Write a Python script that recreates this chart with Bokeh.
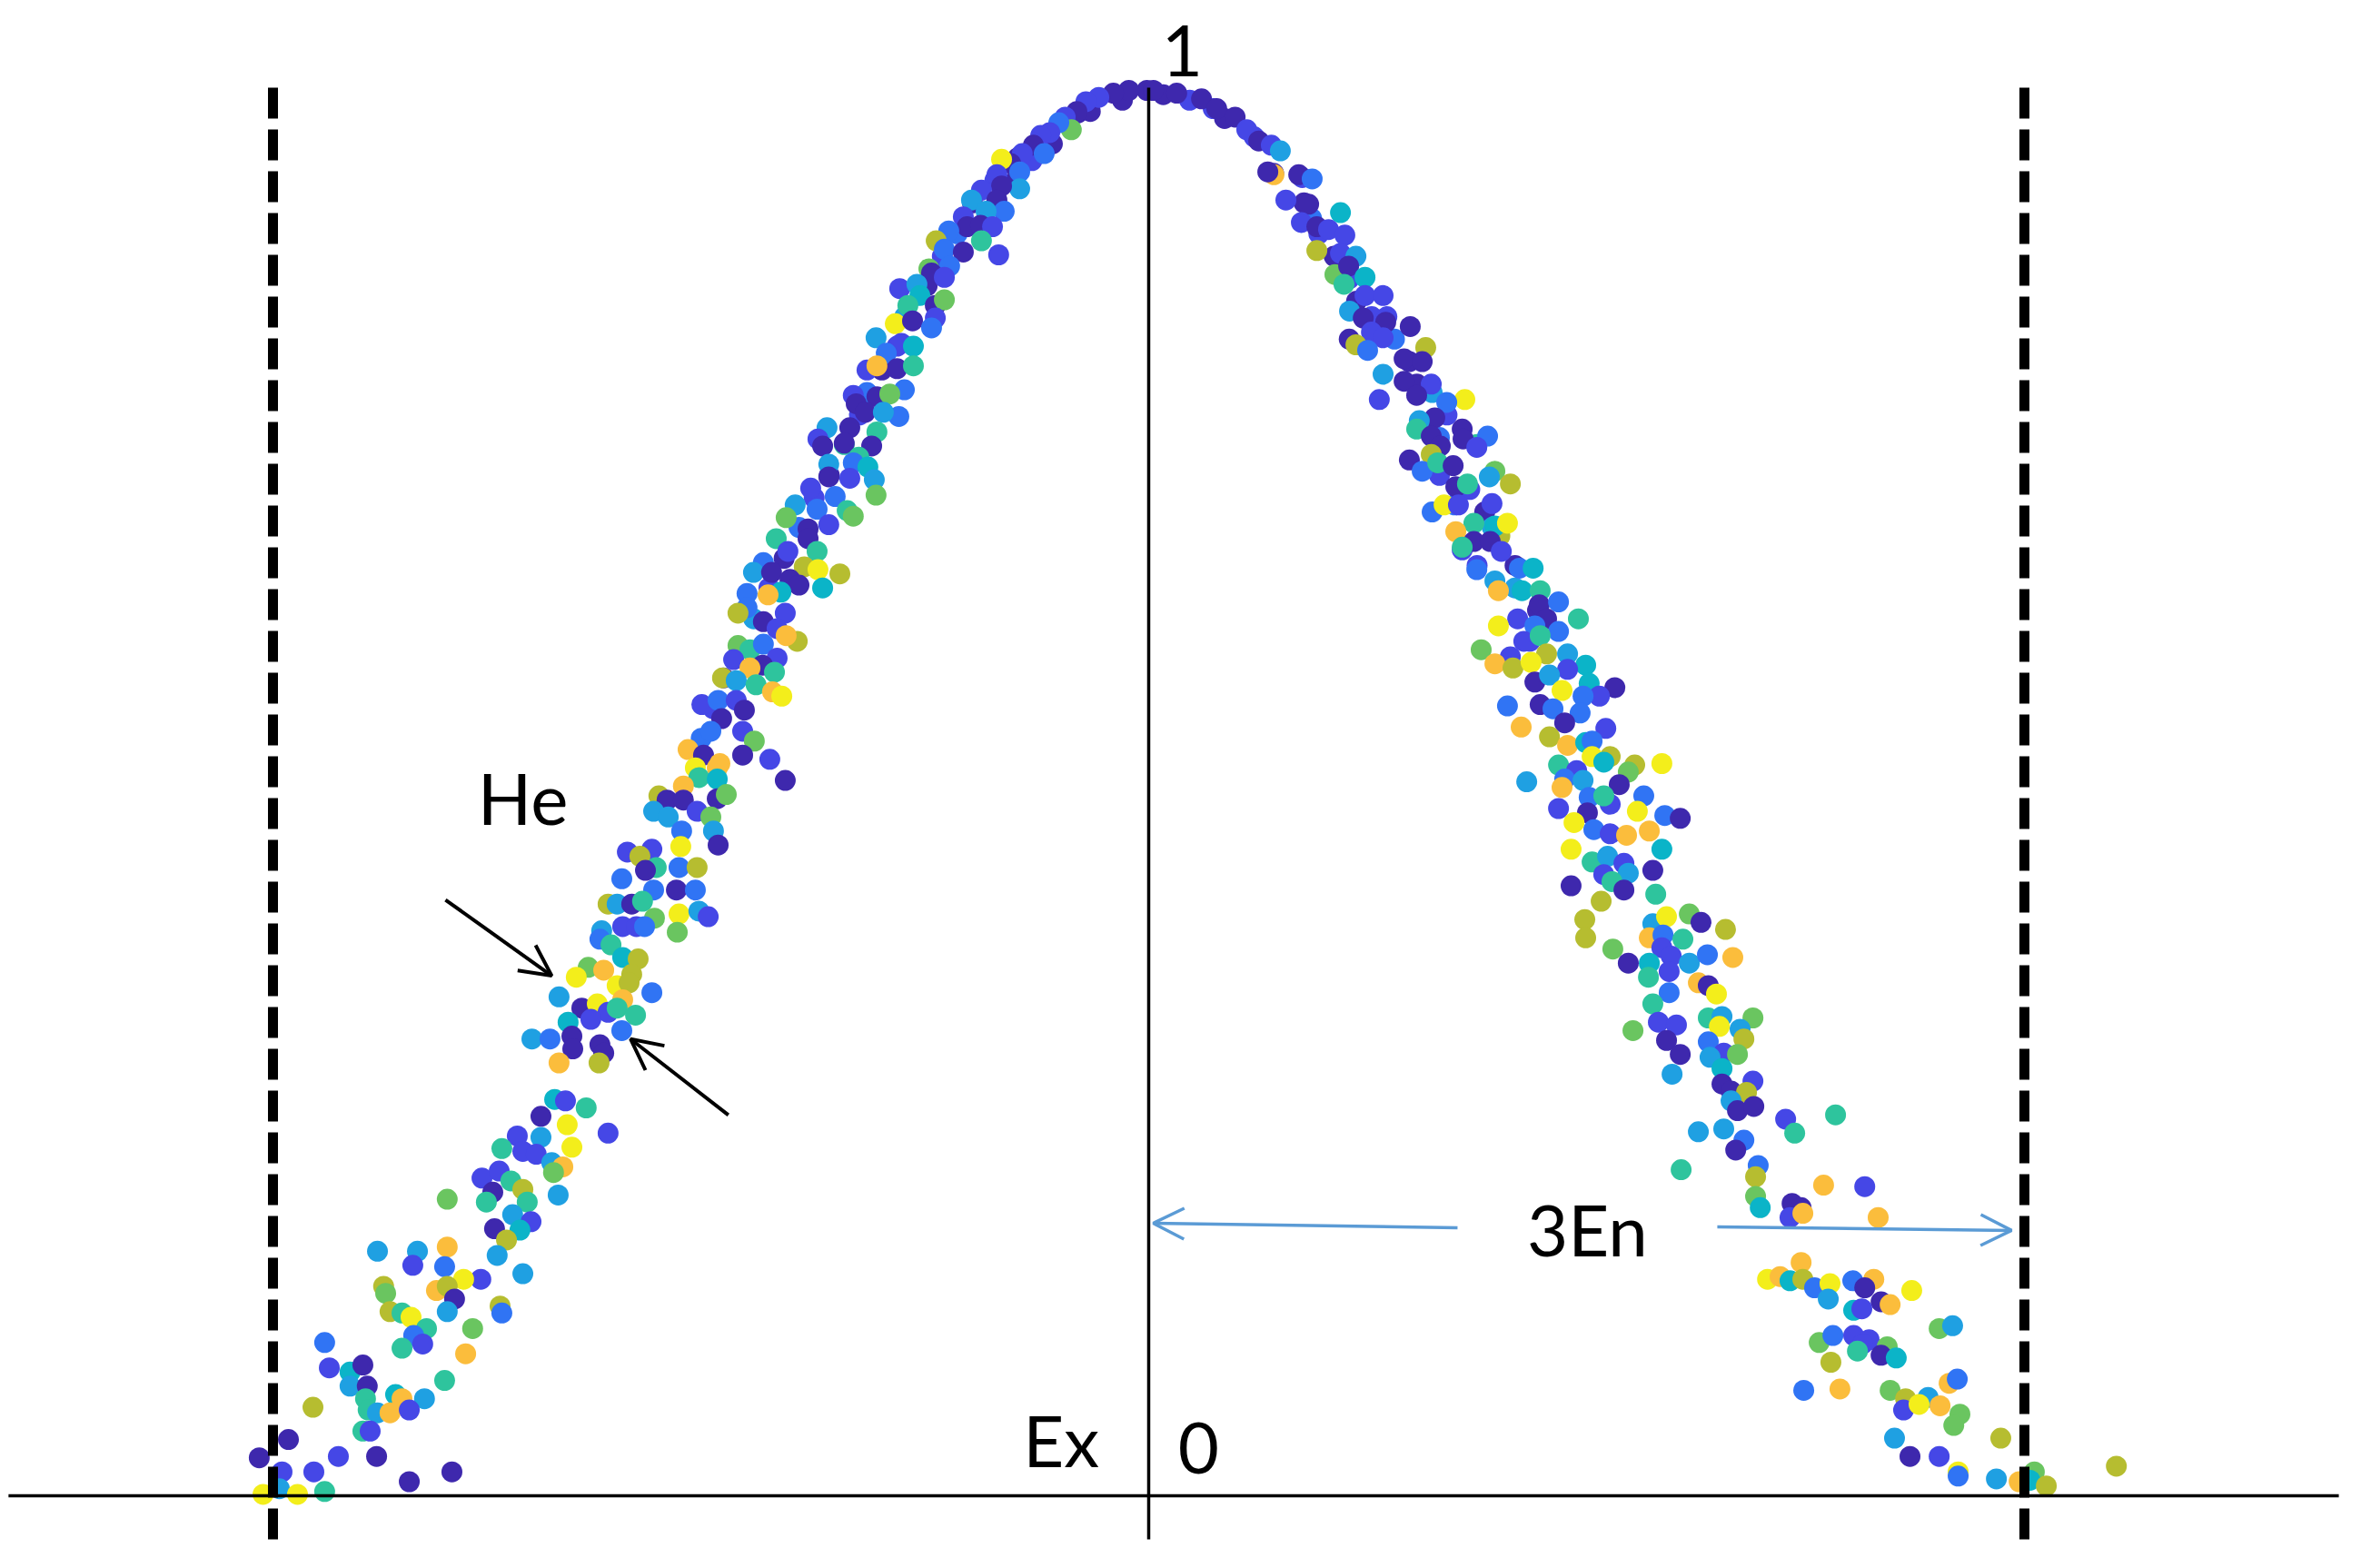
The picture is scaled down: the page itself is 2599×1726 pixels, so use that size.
from bokeh.plotting import figure
from bokeh.models import Range1d, Arrow, OpenHead, ColumnDataSource
from bokeh.core.properties import value
from bokeh.embed import file_html
from bokeh.resources import INLINE

# ---------------- cloud drops (x in En units around Ex, y = certainty degree) -------------
left_fill_x = [-0.243, -0.346, -0.449, -0.527, -0.604, -0.656, -0.707, -0.759, -0.836, -0.862,
               -0.914, -0.965, -0.991, -1.043, -1.094, -1.146, -1.198, -1.249, -1.301, -1.353,
               -1.404, -1.456, -1.492, -1.533]
left_fill_y = [0.984, 0.968, 0.952, 0.936, 0.920, 0.898, 0.882, 0.861, 0.839, 0.818,
               0.801, 0.785, 0.769, 0.748, 0.726, 0.710, 0.689, 0.667, 0.646, 0.624,
               0.603, 0.582, 0.560, 0.539]
left_fill_c = "DBDBDLBDSBDLBTDBLDBSGDBL"

right_fill_x = [0.712, 0.764, 0.842, 0.893, 0.971, 1.022, 1.074, 1.125, 0.996, 1.048,
                1.151, 1.203, 1.125, 1.255, 1.332, 1.306,
                0.428, 0.532, 0.583, 0.635, 0.687, 0.558,
                0.816, 0.919, 0.996, 1.100, 1.177, 1.255, 0.687, 0.790, 0.893, 0.971, 1.074]
right_fill_y = [0.850, 0.839, 0.823, 0.807, 0.785, 0.769, 0.759, 0.748, 0.726, 0.705,
                0.700, 0.683, 0.662, 0.646, 0.630, 0.608,
                0.941, 0.920, 0.898, 0.882, 0.866, 0.909,
                0.839, 0.791, 0.753, 0.716, 0.689, 0.662, 0.823, 0.780, 0.737, 0.700, 0.673]
right_fill_c = "DBLDSBDTBLDOBSDB" "DDBDBL" "BDLBSDDBDLB"

left_top_x = [-0.090, -0.200, -0.330, -0.400, -0.460,
              -0.006, -0.068, -0.121, -0.171, -0.215, -0.246, -0.286, -0.265, -0.308, -0.339,
              -0.370, -0.395, -0.358, -0.433, -0.473, -0.504, -0.442, -0.520, -0.442, -0.504,
              -0.573, -0.607, -0.520, -0.495, -0.557, -0.635, -0.622, -0.576, -0.535, -0.685,
              -0.573, -0.728, -0.700, -0.635, -0.514, -0.753, -0.682, -0.744, -0.700, -0.853,
              -0.794, -0.784, -0.731, -0.700, -0.825]
left_top_y = [0.993, 0.985, 0.962, 0.950, 0.935,
              1.000, 1.000, 0.998, 0.995, 0.992, 0.985, 0.981, 0.972, 0.977, 0.970,
              0.968, 0.961, 0.955, 0.955, 0.948, 0.951, 0.942, 0.940, 0.930, 0.932,
              0.929, 0.922, 0.922, 0.914, 0.914, 0.910, 0.903, 0.904, 0.903, 0.900,
              0.893, 0.893, 0.887, 0.885, 0.883, 0.873, 0.875, 0.870, 0.867, 0.859,
              0.862, 0.854, 0.847, 0.851, 0.847]
left_top_c = ("DDDBD"
              "DDDBBDBGLB" "BDLBDYLBSD" "BSDLSBDDBL" "TOLDBGLDBB" "SCDGT")

left_mid_x = [-0.868, -0.809, -0.731, -0.744, -0.934, -0.847, -0.806, -0.899, -0.862, -0.806,
              -0.965, -0.931, -0.837, -1.012, -0.931, -0.887, -1.002, -0.971, -0.856, -0.909,
              -1.102, -1.024, -0.931, -1.133, -1.117, -1.043, -0.949, -0.993, -1.096, -1.012,
              -0.962, -1.096, -1.024, -0.940, -1.158, -1.074, -0.934, -1.211, -1.136, -1.033,
              -1.242, -1.167, -1.096, -1.012, -1.276, -1.167, -1.136, -1.236, -1.320, -1.354,
              -1.292, -1.180, -1.133, -1.058, -1.229, -1.198, -1.260, -1.117, -1.304, -1.376,
              -1.376, -1.407, -1.245, -1.320, -1.273, -1.204, -1.242, -1.407, -1.366, -1.320,
              -1.422, -1.273, -1.323, -1.366, -1.282, -1.460, -1.413, -1.345, -1.289, -1.257,
              -1.531, -1.475, -1.413, -1.385, -1.463, -1.500, -1.391, -1.351, -1.578, -1.525,
              -1.469, -1.391, -1.298, -1.245]
left_mid_y = [0.834, 0.836, 0.838, 0.831, 0.824, 0.820, 0.818, 0.813, 0.802, 0.804,
              0.801, 0.804, 0.787, 0.783, 0.782, 0.784, 0.777, 0.771, 0.768, 0.771,
              0.760, 0.760, 0.757, 0.752, 0.747, 0.749, 0.747, 0.739, 0.734, 0.735,
              0.732, 0.725, 0.724, 0.723, 0.717, 0.711, 0.712, 0.705, 0.702, 0.701,
              0.696, 0.688, 0.691, 0.697, 0.681, 0.681, 0.672, 0.672, 0.664, 0.657,
              0.657, 0.661, 0.659, 0.656, 0.652, 0.648, 0.643, 0.646, 0.641, 0.642,
              0.632, 0.628, 0.628, 0.622, 0.617, 0.608, 0.612, 0.605, 0.602, 0.606,
              0.595, 0.596, 0.591, 0.589, 0.586, 0.582, 0.580, 0.577, 0.572, 0.569,
              0.563, 0.566, 0.566, 0.559, 0.553, 0.544, 0.544, 0.537, 0.531, 0.527,
              0.521, 0.527, 0.524, 0.509]
left_mid_c = ("YDBLSBCLDT" "BRLBDGDDLS" "SDTBDDDTSL" "CDBSBLGSLT" "GDBGTDTBLS"
              "DOYODDCCRL" "LOBDBORGTL" "BBDRTOSTRY" "BLBDDLBGRD" "RDBD")

left_low_x = [-1.553, -1.478, -1.541, -1.478, -1.594, -1.678, -1.650, -1.594, -1.478, -1.447,
              -1.696, -1.646, -1.547, -1.500, -1.600, -1.491, -1.475, -1.603, -1.786, -1.702,
              -1.743, -1.687, -1.724, -1.609, -1.547, -1.805, -1.696, -1.618, -1.553, -1.852,
              -1.821, -1.771, -1.734, -1.609, -1.541, -1.509, -1.693, -1.802, -1.755, -1.727,
              -1.874, -1.615, -1.880, -1.842, -1.802, -1.749, -1.920, -1.867, -1.961, -1.771,
              -1.821, -1.780, -1.702, -2.020, -1.802, -1.942, -1.889, -1.852, -1.821, -1.758,
              -1.911, -1.989, -1.805, -2.113, -2.051, -1.976, -1.973, -1.880, -1.867, -1.883,
              -2.020, -2.035, -1.998, -1.927, -2.082, -1.992]
left_low_y = [0.518, 0.518, 0.511, 0.510, 0.505, 0.498, 0.495, 0.495, 0.496, 0.499,
              0.487, 0.483, 0.487, 0.483, 0.473, 0.473, 0.463, 0.462, 0.458, 0.460,
              0.455, 0.447, 0.445, 0.447, 0.447, 0.439, 0.431, 0.431, 0.431, 0.421,
              0.421, 0.421, 0.423, 0.414, 0.416, 0.412, 0.411, 0.405, 0.405, 0.405,
              0.402, 0.401, 0.396, 0.392, 0.383, 0.382, 0.376, 0.374, 0.369, 0.371,
              0.363, 0.365, 0.358, 0.355, 0.353, 0.347, 0.350, 0.344, 0.347, 0.342,
              0.339, 0.337, 0.331, 0.325, 0.325, 0.327, 0.318, 0.321, 0.315, 0.308,
              0.308, 0.282, 0.281, 0.276, 0.270, 0.264]
left_low_c = ("YRTCRODDDG" "SSBGLSDYBB" "OTDLOLLDLO" "SDTYSBGBBL" "SGLTCOGRYO"
              "YOLSRDYBTT" "BCLSLDDDDO" "RCBTDY")

left_tail_x = [-1.852, -2.163, -2.082, -1.976, -2.216, -2.144, -2.098, -2.045, -2.007, -2.039,
               -2.284, -2.225, -2.185, -2.247, -2.144, -2.269, -2.129, -2.023, -2.403, -2.179,
               -2.116, -2.241, -2.154, -2.200, -2.403, -2.232, -2.505, -2.642, -2.521, -2.412,
               -2.144, -2.288, -2.347, -2.621, -2.440, -2.403, -2.378, -2.614, -2.222, -2.216,
               -2.403, -2.599, -2.558, -2.527, -2.474, -2.518, -2.487, -2.316, -2.823, -2.558,
               -2.340, -2.807, -2.736, -2.692, -2.736, -2.677, -2.412, -2.580, -2.558, -2.481,
               -2.683, -2.863, -2.674, -2.642, -2.599, -2.533, -2.692, -2.667, -2.947, -3.047,
               -2.776, -2.645, -2.969, -2.860, -2.387, -2.533, -2.978, -2.916, -2.823, -3.034]
left_tail_y = [0.258, 0.256, 0.255, 0.248, 0.247, 0.245, 0.243, 0.237, 0.234, 0.230,
               0.226, 0.231, 0.224, 0.216, 0.218, 0.209, 0.209, 0.214, 0.211, 0.200,
               0.195, 0.190, 0.189, 0.182, 0.177, 0.171, 0.174, 0.174, 0.164, 0.163,
               0.158, 0.154, 0.154, 0.149, 0.146, 0.149, 0.140, 0.144, 0.135, 0.130,
               0.131, 0.131, 0.130, 0.127, 0.119, 0.114, 0.108, 0.119, 0.109, 0.105,
               0.101, 0.091, 0.088, 0.093, 0.078, 0.078, 0.082, 0.072, 0.069, 0.069,
               0.069, 0.063, 0.061, 0.059, 0.059, 0.061, 0.046, 0.046, 0.040, 0.027,
               0.028, 0.028, 0.017, 0.017, 0.017, 0.010, 0.005, 0.001, 0.003, 0.001]
left_tail_c = ("BBSYTBBSRG" "BBTDOTTSGS" "BDCORSSSBL" "SBYORODGOL" "SOTYTLBGLT"
               "RBCDSDTCRS" "TOTSRBTBDD" "BDBBDDSYTY")

right_top_x = [0.050, 0.140, 0.260, 0.221, 0.361, 0.429, 0.526,
               0.016, 0.096, 0.181, 0.233, 0.296, 0.336, 0.377, 0.420, 0.451, 0.408,
               0.514, 0.560, 0.470, 0.548, 0.657, 0.523, 0.576, 0.616, 0.672, 0.576,
               0.657, 0.710, 0.638, 0.685, 0.741, 0.669, 0.741, 0.803, 0.688, 0.735,
               0.812, 0.896, 0.763, 0.710, 0.803, 0.949, 0.750, 0.875, 0.937, 0.803,
               0.875, 0.968, 0.918, 1.083, 1.021, 0.980, 0.927, 0.918, 0.968, 1.077,
               1.161, 0.999, 1.124, 0.968, 0.937, 0.990, 1.043, 1.186, 1.052, 1.092,
               1.167, 1.239, 1.012, 1.061, 1.176, 1.114, 1.186, 1.229, 1.052]
right_top_y = [0.997, 0.993, 0.980, 0.987, 0.967, 0.940, 0.938,
               1.000, 0.998, 0.994, 0.987, 0.981, 0.972, 0.964, 0.961, 0.957, 0.942,
               0.940, 0.937, 0.922, 0.919, 0.913, 0.906, 0.903, 0.901, 0.897, 0.886,
               0.884, 0.882, 0.869, 0.875, 0.867, 0.862, 0.854, 0.854, 0.843, 0.838,
               0.835, 0.832, 0.828, 0.819, 0.824, 0.817, 0.815, 0.809, 0.807, 0.798,
               0.793, 0.791, 0.783, 0.780, 0.778, 0.767, 0.765, 0.759, 0.754, 0.752,
               0.754, 0.747, 0.746, 0.741, 0.729, 0.735, 0.733, 0.729, 0.718, 0.720,
               0.725, 0.720, 0.705, 0.705, 0.706, 0.692, 0.690, 0.692, 0.686]
right_top_c = ("DBDBBRB"
               "DDDDDBDBSD" "DLBDCBDBBO" "BSGDCTBBSD" "DDBOBOLDDS" "DBDYLDSTDD"
               "LDBOLTDGDT" "SOYBBTCYR")

right_mid_x = [1.114, 1.170, 1.074, 1.208, 1.124, 1.186, 1.270, 1.317, 1.198, 1.279,
               1.341, 1.338, 1.404, 1.264, 1.198, 1.363, 1.472, 1.323, 1.404, 1.285,
               1.341, 1.139, 1.239, 1.186, 1.248, 1.363, 1.435, 1.497, 1.310, 1.435,
               1.323, 1.373, 1.416, 1.509, 1.597, 1.544, 1.488, 1.229, 1.341, 1.385,
               1.478, 1.425, 1.276, 1.566, 1.373, 1.435, 1.497, 1.519, 1.581, 1.519,
               1.665, 1.758, 1.404, 1.466, 1.559, 1.643, 1.295, 1.425, 1.488, 1.612,
               1.416, 1.509, 1.581, 1.559, 1.696, 1.404, 1.503, 1.674, 1.768, 1.821,
               1.457, 1.525, 1.581, 1.637, 1.715, 1.447, 1.758, 1.519, 1.572, 1.628,
               1.559, 1.643, 1.727, 1.447, 1.587, 1.628, 1.737, 1.550, 1.494, 1.497,
               1.590, 1.727, 1.774, 1.852, 1.892, 1.976, 1.715, 1.762, 1.830, 1.758,
               1.790, 1.643, 1.715, 1.852, 1.914, 2.001]
right_mid_y = [0.679, 0.679, 0.675, 0.672, 0.659, 0.651, 0.660, 0.660, 0.644, 0.644,
               0.644, 0.634, 0.636, 0.624, 0.619, 0.624, 0.624, 0.619, 0.615, 0.608,
               0.612, 0.602, 0.597, 0.592, 0.589, 0.599, 0.599, 0.591, 0.593, 0.588,
               0.579, 0.584, 0.573, 0.578, 0.575, 0.569, 0.569, 0.562, 0.563, 0.560,
               0.557, 0.550, 0.547, 0.546, 0.540, 0.534, 0.536, 0.537, 0.526, 0.526,
               0.520, 0.521, 0.520, 0.516, 0.522, 0.515, 0.508, 0.510, 0.509, 0.506,
               0.504, 0.497, 0.492, 0.498, 0.498, 0.489, 0.486, 0.487, 0.484, 0.482,
               0.479, 0.474, 0.471, 0.470, 0.473, 0.460, 0.460, 0.451, 0.455, 0.450,
               0.442, 0.443, 0.445, 0.434, 0.437, 0.431, 0.428, 0.423, 0.410, 0.397,
               0.389, 0.407, 0.412, 0.414, 0.408, 0.403, 0.397, 0.399, 0.396, 0.390,
               0.384, 0.379, 0.379, 0.379, 0.385, 0.383]
right_mid_c = ("DDTBLSLCRC" "TDLBYDTLLB" "TGBROOSCYB" "DSYCDBLLDL" "LDRBORCLOY"
               "OYTBCGSLSD" "RLBTLBDYLD" "YLBRRYCTSB" "BSDDTDTOOO" "GSYGDORLTB"
               "BDCSLR")

right_low_x = [1.783, 1.712, 1.883, 1.917, 1.945, 1.783, 1.727, 1.659, 1.746, 1.808,
               1.917, 1.964, 2.070, 2.026, 1.955, 1.774, 2.039, 1.917, 1.821, 1.970,
               1.923, 2.017, 1.793, 1.964, 1.964, 2.070, 1.995, 2.048, 1.995, 2.017,
               2.073, 2.182, 2.353, 2.213, 1.883, 1.970, 2.039, 2.011, 1.824, 2.088,
               2.079, 2.312, 2.453, 2.079, 2.095, 2.204, 2.235, 2.197, 2.241, 2.499,
               2.235, 2.120, 2.163, 2.197, 2.241, 2.281, 2.334, 2.328, 2.412, 2.484,
               2.453, 2.614, 2.509, 2.540, 2.415, 2.443, 2.708, 2.754, 2.297, 2.344,
               2.415, 2.468, 2.446, 2.530, 2.428, 2.509, 2.561, 2.337, 2.244, 2.368,
               2.540, 2.742, 2.770, 2.670, 2.593, 2.586, 2.639, 2.711, 2.779, 2.758,
               2.555, 2.919, 2.608, 2.708, 2.773, 2.773, 2.904, 2.982, 3.034, 3.019,
               3.075, 3.315]
right_low_y = [0.373, 0.369, 0.365, 0.363, 0.357, 0.358, 0.350, 0.331, 0.337, 0.335,
               0.340, 0.341, 0.340, 0.332, 0.334, 0.324, 0.325, 0.323, 0.314, 0.315,
               0.312, 0.314, 0.300, 0.304, 0.293, 0.295, 0.288, 0.287, 0.281, 0.274,
               0.277, 0.268, 0.271, 0.258, 0.259, 0.261, 0.253, 0.246, 0.232, 0.235,
               0.227, 0.221, 0.220, 0.213, 0.205, 0.208, 0.205, 0.198, 0.201, 0.198,
               0.166, 0.154, 0.156, 0.153, 0.154, 0.148, 0.151, 0.140, 0.153, 0.154,
               0.148, 0.146, 0.138, 0.136, 0.132, 0.133, 0.119, 0.121, 0.109, 0.114,
               0.114, 0.111, 0.108, 0.106, 0.103, 0.100, 0.098, 0.095, 0.075, 0.076,
               0.075, 0.080, 0.083, 0.070, 0.069, 0.061, 0.065, 0.064, 0.058, 0.050,
               0.041, 0.041, 0.028, 0.028, 0.017, 0.014, 0.012, 0.010, 0.017, 0.011,
               0.007, 0.021]
right_low_c = ("BTRDYLTGBB" "TSGSYDOLDB" "SGSCDBDOSD" "DBTTSSLDTL" "ORBGCDDBRR"
               "RYRCOLYSLR" "DYDRCBGSGL" "BBBGTDCOLR" "GRLSOBYRGG" "SODBYLSRGC"
               "OO")

# ---------------- annotations ----------------
EX = 0.0
EN = 1.0
label_text = ["1", "Ex", "0", "He", "3En"]
label_x = [0.115, -0.300, 0.171, -2.144, 1.503]
label_y = [1.028, 0.040, 0.034, 0.497, 0.190]

# parula-like colour codes
PALETTE = {"D": "#3e28ad", "B": "#4547e6", "L": "#3074f4", "S": "#1fa0e2",
           "C": "#0bb4c8", "T": "#2ec49d", "G": "#6ac560", "O": "#b6bd30",
           "R": "#fbbd3c", "Y": "#f3ee1b"}

xs, ys, cs = [], [], []
for gx, gy, gc in [(left_fill_x, left_fill_y, left_fill_c),
                   (right_fill_x, right_fill_y, right_fill_c),
                   (left_top_x, left_top_y, left_top_c),
                   (left_mid_x, left_mid_y, left_mid_c),
                   (left_low_x, left_low_y, left_low_c),
                   (left_tail_x, left_tail_y, left_tail_c),
                   (right_top_x, right_top_y, right_top_c),
                   (right_mid_x, right_mid_y, right_mid_c),
                   (right_low_x, right_low_y, right_low_c)]:
    n = min(len(gx), len(gy))
    codes = (gc + "B" * n)[:n]
    xs += gx[:n]
    ys += gy[:n]
    cs += [PALETTE[c] for c in codes]

src = ColumnDataSource(dict(x=xs, y=ys, c=cs))

W, H = 2582, 1708
p = figure(width=W, height=H,
           x_range=Range1d(-3.9336, 4.1017), y_range=Range1d(-0.0401, 1.0640),
           output_backend="svg", toolbar_location=None,
           x_axis_location=None, y_axis_location=None, min_border=0)
p.grid.visible = False
p.outline_line_color = None
p.background_fill_color = "white"
p.border_fill_color = "white"

p.scatter(x="x", y="y", size=23, fill_color="c", line_color=None, source=src)

# axes drawn on top of the drops
p.line([-3.906, 4.077], [0, 0], line_color="black", line_width=3.5)
p.line([EX, EX], [1.002, -0.031], line_color="black", line_width=3.5)
for xd in (EX - 3 * EN, EX + 3 * EN):
    p.line([xd, xd], [1.002, -0.032], line_color="black", line_width=11,
           line_dash="34 12", line_cap="butt")

p.text(x=label_x, y=label_y, text=label_text, text_font=value("Lato"),
       text_font_size="78px", text_align="center", text_baseline="alphabetic",
       text_color="black")

blue = "#5b9bd5"
p.add_layout(Arrow(end=OpenHead(size=34, line_color=blue, line_width=3.5),
                   x_start=1.058, y_start=0.1907, x_end=EX + 0.0156, y_end=0.1939,
                   line_color=blue, line_width=3.5))
p.add_layout(Arrow(end=OpenHead(size=34, line_color=blue, line_width=3.5),
                   x_start=1.948, y_start=0.1913, x_end=EX + 3 * EN - 0.044, y_end=0.1888,
                   line_color=blue, line_width=3.5))
p.add_layout(Arrow(end=OpenHead(size=34, line_color="black", line_width=4),
                   x_start=-2.409, y_start=0.424, x_end=-2.045, y_end=0.370,
                   line_color="black", line_width=4))
p.add_layout(Arrow(end=OpenHead(size=34, line_color="black", line_width=4),
                   x_start=-1.440, y_start=0.2709, x_end=-1.775, y_end=0.3250,
                   line_color="black", line_width=4))

open("out.html", "w").write(file_html(p, INLINE, "cloud"))
